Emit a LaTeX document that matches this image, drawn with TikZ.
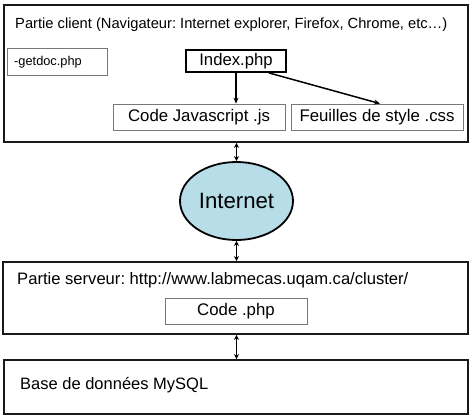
\documentclass[tikz,border=0pt]{standalone}
\usepackage{fontspec}
\setmainfont{Liberation Sans}
\usetikzlibrary{shapes.geometric,arrows.meta}
\definecolor{inetblue}{RGB}{183,222,232}
\definecolor{thingray}{RGB}{120,120,120}
\frenchspacing
\begin{document}
\begin{tikzpicture}[x=1pt,y=-1pt,
  outerbox/.style={draw=black!90, line width=1.8pt, minimum width=#1, inner sep=0pt},
  thinbox/.style={draw=thingray, line width=0.8pt, inner sep=0pt},
  boldbox/.style={draw=black, line width=1.8pt, inner sep=0pt},
  arr/.style={line width=1.5pt, -{Stealth[length=6pt,width=5pt]}},
  darr/.style={line width=1.7pt, {Stealth[length=5pt,width=5pt]}-{Stealth[length=5pt,width=5pt]}}]
\useasboundingbox (0,0) rectangle (474,418);
\fill[white] (0,0) rectangle (474,418);
% client
\node[outerbox=464pt, minimum height=137pt] (client) at (236,73.5) {};
\node[anchor=west, inner sep=0pt, font=\fontsize{14.7}{16}\selectfont] (ctitle) at (15,25) {Partie client (Navigateur: Internet explorer, Firefox, Chrome, etc…)};
\node[thinbox, minimum width=100pt, minimum height=27pt] (getdoc) at (57,61.5) {};
\node[anchor=west, inner sep=0pt, font=\fontsize{12.8}{14}\selectfont] (getdoctxt) at (14,62) {-getdoc.php};
\node[boldbox, minimum width=100pt, minimum height=22pt, font=\fontsize{16.7}{18}\selectfont] (index) at (236,61) {Index.php};
\node[thinbox, minimum width=172pt, minimum height=26pt, font=\fontsize{16.8}{18}\selectfont] (js) at (199,117) {Code Javascript .js};
\node[thinbox, minimum width=172pt, minimum height=26pt, font=\fontsize{16.8}{18}\selectfont] (css) at (377,117) {Feuilles de style .css};
\draw[arr] (index.south) -- (index.south |- js.north);
\draw[arr] ([xshift=-18pt]index.south east) -- ([xshift=3pt]css.north);
% internet
\node[ellipse, draw=black, line width=1.8pt, fill=inetblue, minimum width=113pt, minimum height=78pt, inner sep=0pt, font=\fontsize{22.2}{26}\selectfont] (inet) at (236.5,201) {Internet};
% server
\node[outerbox=465pt, minimum height=72pt] (server) at (235.5,298) {};
\node[anchor=west, inner sep=0pt, font=\fontsize{16.6}{18}\selectfont] (stitle) at (17,280) {Partie serveur: http://www.labmecas.uqam.ca/cluster/};
\node[thinbox, minimum width=142pt, minimum height=26pt, font=\fontsize{16.8}{18}\selectfont] (php) at (236,311) {Code .php};
% database
\node[outerbox=464pt, minimum height=54pt] (db) at (236,387) {};
\node[anchor=west, inner sep=0pt, font=\fontsize{16.5}{18}\selectfont] (dbtxt) at (20,385) {Base de données MySQL};
% arrows
\draw[darr] (client.south -| inet.north) -- (inet.north);
\draw[darr] (inet.south) -- (inet.south |- server.north);
\draw[darr] (server.south -| inet.south) -- (inet.south |- db.north);
\end{tikzpicture}
\end{document}
